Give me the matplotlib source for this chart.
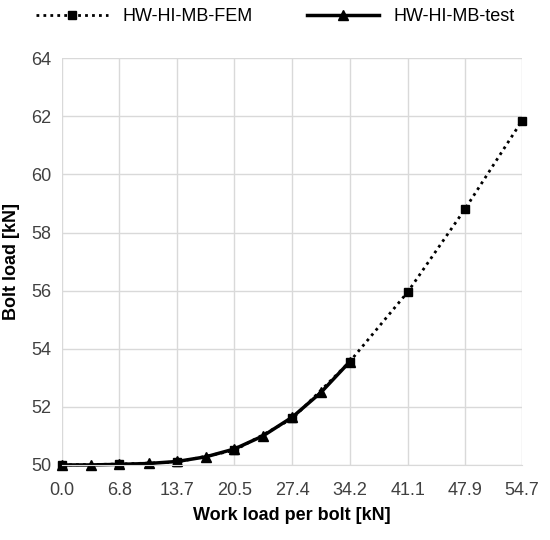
import matplotlib
matplotlib.use('Agg')
import matplotlib.pyplot as plt

fem_x = [0.0, 6.8, 13.7, 20.5, 27.4, 34.2, 41.1, 47.9, 54.7]
fem_y = [50.0, 50.03, 50.1, 50.5, 51.6, 53.55, 55.95, 58.8, 61.85]
test_x = [0.0, 3.4, 6.8, 10.3, 13.7, 17.1, 20.5, 23.9, 27.4, 30.8, 34.2]
test_y = [50.0, 50.0, 50.02, 50.05, 50.12, 50.28, 50.55, 51.0, 51.65, 52.5, 53.55]
xticks = [0.0, 6.8, 13.7, 20.5, 27.4, 34.2, 41.1, 47.9, 54.7]

plt.rcParams['font.family'] = ['Liberation Sans', 'DejaVu Sans']
fig = plt.figure(figsize=(5.5, 5.4), dpi=100)
ax = fig.add_axes([0.113, 0.139, 0.836, 0.753])

ax.plot(fem_x, fem_y, color='black', linestyle=(0, (1, 1.5)), linewidth=2,
        marker='s', markersize=6, label='HW-HI-MB-FEM', clip_on=False)
ax.plot(test_x, test_y, color='black', linestyle='-', linewidth=2.5,
        marker='^', markersize=7, label='HW-HI-MB-test', clip_on=False)

ax.set_xlim(0, 54.7)
ax.set_ylim(50, 64)
ax.set_xticks(xticks)
ax.set_xticklabels([f"{v:.1f}" for v in xticks])
ax.set_yticks(range(50, 65, 2))
ax.grid(True, color='#d9d9d9', linewidth=1)
ax.set_axisbelow(True)
for s in ['top', 'right', 'left']:
    ax.spines[s].set_visible(False)
ax.spines['bottom'].set_color('#d9d9d9')
ax.tick_params(length=0, labelsize=13, colors='#404040')
ax.tick_params(axis='x', pad=12)
ax.tick_params(axis='y', pad=8)
ax.set_xlabel('Work load per bolt [kN]', fontsize=13, fontweight='bold', labelpad=6)
ax.set_ylabel('Bolt load [kN]', fontsize=13, fontweight='bold', labelpad=8)

fig.legend(loc='upper center', bbox_to_anchor=(0.5, 1.015), ncol=2, frameon=False,
           fontsize=13, handlelength=4, columnspacing=3)
fig.savefig('out.png')
